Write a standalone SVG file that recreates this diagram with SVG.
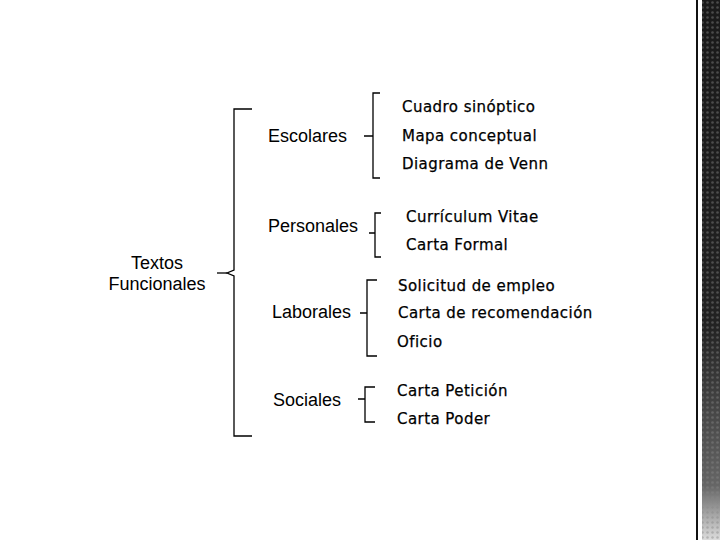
<svg xmlns="http://www.w3.org/2000/svg" width="720" height="540" viewBox="0 0 720 540">
<defs>
<style>
.lbl{font-family:"Liberation Sans",Arial,sans-serif;font-size:18px;fill:#000}
.itm{font-family:"DejaVu Sans","Liberation Sans",sans-serif;font-size:15px;letter-spacing:0.45px;fill:#000;stroke:#000;stroke-width:0.25}
.br{fill:none;stroke:#000;stroke-width:1.3}
</style>
<linearGradient id="g" x1="0" y1="0" x2="0" y2="1">
<stop offset="0" stop-color="#1a1a1a"/>
<stop offset="0.6" stop-color="#222"/>
<stop offset="0.9" stop-color="#666"/>
<stop offset="1" stop-color="#ddd"/>
</linearGradient>
<pattern id="dots" width="5" height="5" patternUnits="userSpaceOnUse">
<circle cx="2.5" cy="2.5" r="1.3" fill="#888" fill-opacity="0.45"/>
</pattern>
</defs>
<rect width="720" height="540" fill="#fff"/>
<g id="edge">
<rect x="696" y="0" width="2" height="540" fill="#111"/>
<rect x="702" y="0" width="18" height="540" fill="url(#g)"/>
<rect x="702" y="0" width="18" height="540" fill="url(#dots)"/>
</g>
<g id="connectors">
<path class="br" d="M252 109 H234 V270 L227 273 L234 276 V436 H252"/>
<path class="br" d="M217 273 H227"/>
<path class="br" d="M380 93 H373 V136 H364 M373 136 V178 H380"/>
<path class="br" d="M381 213 H375 V233 H369 M375 233 V257 H381"/>
<path class="br" d="M377 280 H367 V313 H360 M367 313 V356 H377"/>
<path class="br" d="M375 387 H365 V399 H358 M365 399 V422 H375"/>
</g>
<g id="root"><text class="lbl" x="157" y="269" text-anchor="middle">Textos</text><text class="lbl" x="157" y="290" text-anchor="middle">Funcionales</text></g>
<g id="escolares"><text class="lbl" x="268" y="142">Escolares</text></g>
<g id="personales"><text class="lbl" x="268" y="232">Personales</text></g>
<g id="laborales"><text class="lbl" x="272" y="318">Laborales</text></g>
<g id="sociales"><text class="lbl" x="273" y="406">Sociales</text></g>
<g id="items-escolares">
<text class="itm" x="402" y="112">Cuadro sinóptico</text>
<text class="itm" x="402" y="141">Mapa conceptual</text>
<text class="itm" x="402" y="169">Diagrama de Venn</text>
</g>
<g id="items-personales">
<text class="itm" x="406" y="222">Currículum Vitae</text>
<text class="itm" x="406" y="250">Carta Formal</text>
</g>
<g id="items-laborales">
<text class="itm" x="398" y="291">Solicitud de empleo</text>
<text class="itm" x="398" y="318">Carta de recomendación</text>
<text class="itm" x="397" y="347">Oficio</text>
</g>
<g id="items-sociales">
<text class="itm" x="397" y="396">Carta Petición</text>
<text class="itm" x="397" y="424">Carta Poder</text>
</g>
</svg>
